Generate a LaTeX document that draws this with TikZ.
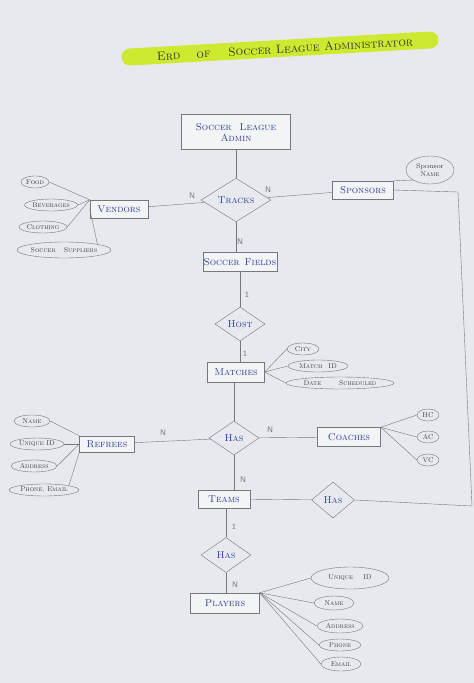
\documentclass[tikz,border=0pt]{standalone}
\usepackage{tikz}
\usetikzlibrary{shapes.geometric}
\definecolor{paper}{RGB}{232,233,238}
\definecolor{pencil}{RGB}{118,118,124}
\definecolor{ink}{RGB}{42,62,150}
\definecolor{marker}{RGB}{206,233,48}
\tikzset{>=stealth,
  entity/.style={draw=pencil, fill=white!50!paper, text=ink, font=\scshape\fontsize{10}{11}\selectfont, inner sep=1pt, minimum height=18pt},
  rel/.style={diamond, draw=pencil, text=ink, inner sep=0pt, minimum width=50pt, minimum height=34pt, font=\scshape\fontsize{10}{11}\selectfont},
  attr/.style={ellipse, draw=pencil, text=black!75, inner sep=0pt, minimum height=12pt, font=\scshape\fontsize{7}{8}\selectfont},
  link/.style={draw=pencil, thin},
  card/.style={text=pencil, font=\sffamily\fontsize{8}{9}\selectfont}
}

\begin{document}
\begin{tikzpicture}[x=1pt, y=-1pt]
    \fill[paper] (0,0) rectangle (474,683);
    \useasboundingbox (0,0) rectangle (474,683);
    % title with marker
    \draw[marker, line width=17pt, line cap=round] (130,57) -- (430,40);
    \node[rotate=3.3, text=black!80, font=\scshape\fontsize{12}{14}\selectfont] (title) at (285,49)
      {Erd\hspace{16pt}of\hspace{18pt}Soccer League Administrator};
    % entities
    \node[entity, minimum width=109pt, minimum height=35pt, align=center] (admin) at (236,132) {Soccer\hspace{8pt}League\\Admin};
    \node[entity, minimum width=58pt] (vendors) at (119,209) {Vendors};
    \node[entity, minimum width=61pt] (sponsors) at (363,190) {Sponsors};
    \node[entity, minimum width=67pt, minimum height=19pt] (fields) at (240,262) {Soccer\hspace{5pt}Fields};
    \node[entity, minimum width=57pt, minimum height=20pt] (matches) at (236,372) {Matches};
    \node[entity, minimum width=55pt, minimum height=16pt] (refrees) at (107,444) {Refrees};
    \node[entity, minimum width=63pt, minimum height=19pt] (coaches) at (349,437) {Coaches};
    \node[entity, minimum width=52pt] (teams) at (224,499) {Teams};
    \node[entity, minimum width=69pt, minimum height=20pt] (players) at (225,603) {Players};
    % relationships
    \node[rel, minimum width=70pt, minimum height=38pt] (tracks) at (236,200) {Tracks};
    \node[rel] (host) at (240,324) {Host};
    \node[rel] (hasmid) at (234,438) {Has};
    \node[rel, minimum width=43pt, minimum height=36pt] (hasright) at (333,500) {Has};
    \node[rel, minimum height=35pt] (haslow) at (226,555) {Has};
    % attributes
    \node[attr, minimum width=28pt] (food) at (35,182) {Food};
    \node[attr, minimum width=46pt] (beverages) at (51,205) {Beverages};
    \node[attr, minimum width=48pt] (clothing) at (43,227) {Clothing};
    \node[attr, minimum width=90pt, minimum height=16pt] (suppliers) at (64,250) {Soccer\hspace{8pt}Suppliers};
    \node[attr, minimum width=48pt, minimum height=28pt, align=center] (sponsorname) at (430,170) {\upshape Sponsor\\Name};
    \node[attr, minimum width=32pt] (city) at (303,349) {City};
    \node[attr, minimum width=60pt] (matchid) at (318,366) {Match\hspace{6pt}ID};
    \node[attr, minimum width=108pt] (date) at (340,383) {Date\hspace{18pt}Scheduled};
    \node[attr, minimum width=36pt] (rname) at (32,421) {Name};
    \node[attr, minimum width=54pt] (runique) at (37,444) {Unique ID};
    \node[attr, minimum width=46pt] (raddress) at (34,466) {Address};
    \node[attr, minimum width=70pt] (rphone) at (44,490) {Phone, Email};
    \node[attr, minimum width=22pt] (hc) at (428,415) {HC};
    \node[attr, minimum width=22pt] (ac) at (428,437) {AC};
    \node[attr, minimum width=22pt] (vc) at (428,460) {VC};
    \node[attr, minimum width=78pt, minimum height=22pt] (punique) at (350,578) {Unique\hspace{10pt}ID};
    \node[attr, minimum width=40pt, minimum height=14pt] (pname) at (334,603) {Name};
    \node[attr, minimum width=46pt, minimum height=14pt] (paddress) at (340,626) {Address};
    \node[attr, minimum width=42pt] (pphone) at (340,645) {Phone};
    \node[attr, minimum width=40pt, minimum height=14pt] (pemail) at (341,664) {Email};
    % cardinalities
    \node[card] (n1) at (192,196) {N};
    \node[card] (n2) at (268,190) {N};
    \node[card] (n3) at (240,242) {N};
    \node[card] (c1) at (247,295) {1};
    \node[card] (c2) at (245,354) {1};
    \node[card] (n4) at (163,433) {N};
    \node[card] (n5) at (270,430) {N};
    \node[card] (n6) at (243,480) {N};
    \node[card] (c3) at (234,527) {1};
    \node[card] (n7) at (235,585) {N};
    % connectors
    \coordinate (bend) at (458,192);
    \coordinate (edge) at (472,506);
    \draw[link] (admin.south -| tracks) -- (tracks);
    \draw[link] (tracks) -- (vendors);
    \draw[link] (tracks) -- (sponsors);
    \draw[link] (tracks) -- (tracks |- fields.north);
    \draw[link] (fields) -- (host);
    \draw[link] (host) -- (matches.north -| host);
    \draw[link] (matches.south -| hasmid) -- (hasmid);
    \draw[link] (hasmid) -- (refrees);
    \draw[link] (hasmid) -- (coaches);
    \draw[link] (hasmid) -- (hasmid |- teams.north);
    \draw[link] (teams) -- (hasright);
    \draw[link] (hasright.east) -- (edge);
    \draw[link] (sponsors.east) -- (bend) -- (edge);
    \draw[link] (teams.south -| haslow) -- (haslow);
    \draw[link] (haslow) -- (haslow |- players.north);
    \draw[link] (vendors.north west) -- (food.east);
    \draw[link] (vendors.north west) -- (beverages.east);
    \draw[link] (vendors.north west) -- (clothing.east);
    \draw[link] (vendors.west) -- (suppliers.north east);
    \draw[link] (sponsors.north east) -- (sponsorname.south west);
    \draw[link] (matches.east) -- (city.west);
    \draw[link] (matches.east) -- (matchid.west);
    \draw[link] (matches.east) -- (date.west);
    \draw[link] (refrees.north west) -- (rname.east);
    \draw[link] (refrees.west) -- (runique.east);
    \draw[link] (refrees.west) -- (raddress.east);
    \draw[link] (refrees.south west) -- (rphone.north east);
    \draw[link] (coaches.north east) -- (hc.west);
    \draw[link] (coaches.north east) -- (ac.west);
    \draw[link] (coaches.north east) -- (vc.west);
    \draw[link] (players.north east) -- (punique.west);
    \draw[link] (players.north east) -- (pname.west);
    \draw[link] (players.north east) -- (paddress.west);
    \draw[link] (players.north east) -- (pphone.west);
    \draw[link] (players.north east) -- (pemail.west);
\end{tikzpicture}
\end{document}
